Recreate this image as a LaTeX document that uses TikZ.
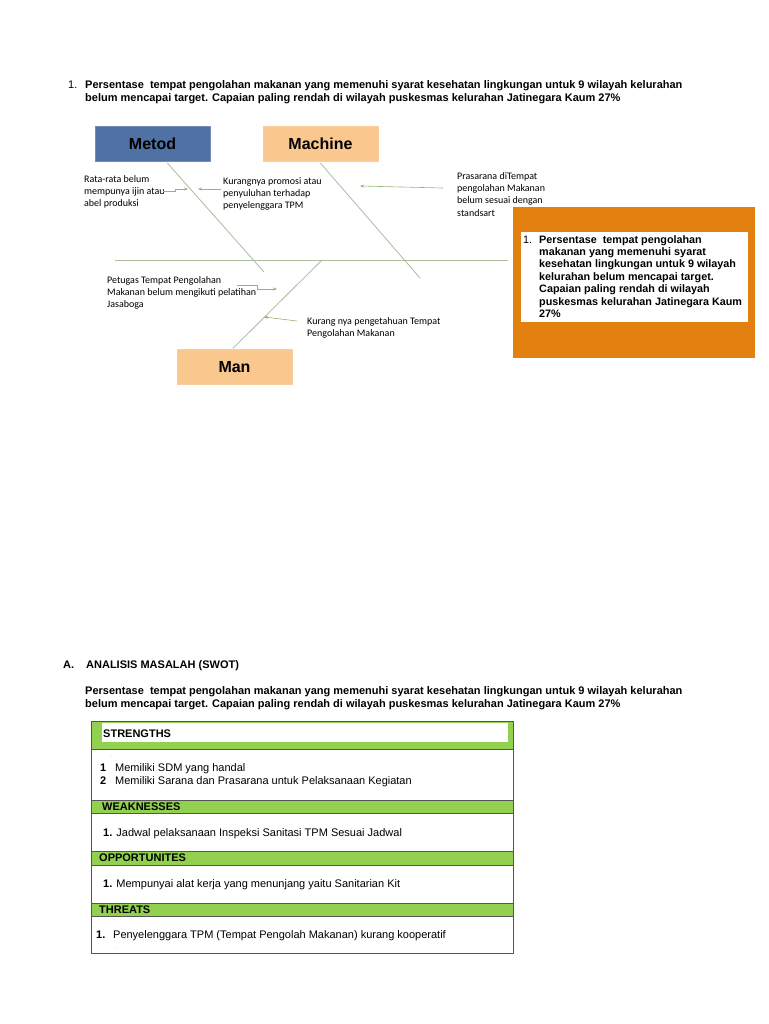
\documentclass[tikz,border=0pt]{standalone}
\usepackage{fontspec}
\setmainfont{Liberation Sans}
\newfontfamily\notefont{Carlito}
\usetikzlibrary{arrows.meta,positioning}
\definecolor{metodblue}{RGB}{79,113,163}
\definecolor{peach}{RGB}{250,199,143}
\definecolor{orangebox}{RGB}{226,129,15}
\definecolor{swotgreen}{RGB}{146,208,80}
\definecolor{boneline}{RGB}{172,188,158}
\definecolor{arrowgreen}{RGB}{150,180,120}
\definecolor{gridgray}{RGB}{85,85,85}

\begin{document}
\begin{tikzpicture}[x=1pt,y=-1pt,
  headbox/.style={minimum width=115pt,minimum height=35pt,inner sep=0pt,font=\fontsize{16}{18}\selectfont\bfseries},
  note/.style={anchor=north west,inner sep=0pt,align=left,font=\notefont\fontsize{10}{12.3}\selectfont},
  bone/.style={boneline,line width=0.8pt},
  cause/.style={-{Stealth[length=4pt,width=3pt]},arrowgreen,line width=0.6pt},
  body/.style={inner sep=0pt,anchor=base west,font=\fontsize{11}{13}\selectfont},
  bodybf/.style={body,font=\fontsize{11}{13}\selectfont\bfseries},
  para/.style={inner sep=0pt,anchor=north west,align=left,font=\fontsize{11}{13}\selectfont\bfseries}]
\useasboundingbox (0,0) rectangle (768,1024);
\fill[white] (0,0) rectangle (768,1024);

% title of the fishbone
\node[inner sep=0pt,anchor=north west,font=\fontsize{11}{13}\selectfont] (t1num) at (68,80) {\vphantom{Pl}1.};
\node[para] (t1) at (85,80) {Persentase\ \ tempat pengolahan makanan yang memenuhi syarat kesehatan lingkungan untuk 9 wilayah kelurahan\\belum mencapai target. Capaian paling rendah di wilayah puskesmas kelurahan Jatinegara Kaum 27\%};

% category heads
\node[headbox,fill=metodblue,draw=metodblue!80!white] (metod) at (152.5,143.5) {Metod};
\node[headbox,fill=peach,draw=peach!90!white] (machine) at (320.5,143.5) {Machine};
\node[headbox,fill=peach,draw=peach!90!white] (man) at (234.5,367) {Man};

% problem (head of the fish)
\fill[orangebox] (513,207) rectangle (755,358);
\node[fill=white,minimum width=227pt,minimum height=89pt,inner sep=0pt] (problem) at (634.5,277) {};
\node[inner sep=0pt,anchor=north west,font=\fontsize{10.8}{12.4}\selectfont] (pnum) at (523,235) {\vphantom{Pl}1.};
\node[para,font=\fontsize{10.8}{12.4}\selectfont\bfseries] (ptext) at (539,235) {Persentase\ \ tempat pengolahan\\makanan yang memenuhi syarat\\kesehatan lingkungan untuk 9 wilayah\\kelurahan belum mencapai target.\\Capaian paling rendah di wilayah\\puskesmas kelurahan Jatinegara Kaum\\27\%};

% spine and bones
\coordinate (tail) at (115,260);
\coordinate (spineend) at (508,260);
\draw[bone] (tail) -- (spineend);
\coordinate (metodtip) at (264,272);
\coordinate (machinetip) at (420,278);
\coordinate (manroot) at (322,260);
\draw[bone] ([xshift=15pt,yshift=-2pt]metod.south) -- (metodtip);
\draw[bone] ([yshift=-2pt]machine.south) -- (machinetip);
\draw[bone] (manroot) -- ([xshift=-1.5pt,yshift=1pt]man.north);

% causes
\node[note] (c1) at (84,175) {Rata-rata belum\\mempunya ijin atau\\abel produksi};
\node[note] (c2) at (223,177) {Kurangnya promosi atau\\penyuluhan terhadap\\penyelenggara TPM};
\node[note] (c3) at (457,172) {Prasarana diTempat\\pengolahan Makanan\\belum sesuai dengan\\standsart};
\node[note] (c4) at (107,276) {Petugas Tempat Pengolahan\\Makanan belum mengikuti pelatihan\\Jasaboga};
\node[note] (c5) at (307,317) {Kurang nya pengetahuan Tempat\\Pengolahan Makanan};

\coordinate (c1a) at (163,191);
\coordinate (c1b) at (188,189);
\draw[cause] (c1a) -- ++(12,0) |- (c1b);
\coordinate (c2a) at (221,189);
\coordinate (c2b) at (198,189);
\draw[cause] (c2a) -- (c2b);
\coordinate (c3a) at (443,188);
\coordinate (c3b) at (360,186);
\draw[cause] (c3a) -- (c3b);
\coordinate (c4a) at (237,285);
\coordinate (c4b) at (277,289);
\draw[cause] (c4a) -- ++(20,0) |- (c4b);
\coordinate (c5a) at (297,321);
\coordinate (c5b) at (264,317);
\draw[cause] (c5a) -- (c5b);
\node[inner sep=0pt,font=\tiny,text=black!30] (dot1) at (78,219) {.};

% SWOT section
\node[bodybf] (anum) at (63,668) {A.};
\node[bodybf] (atitle) at (86,668) {ANALISIS MASALAH (SWOT)};
\node[para] (stext) at (85,686) {Persentase\ \ tempat pengolahan makanan yang memenuhi syarat kesehatan lingkungan untuk 9 wilayah kelurahan\\belum mencapai target. Capaian paling rendah di wilayah puskesmas kelurahan Jatinegara Kaum 27\%};

% table bands
\fill[swotgreen] (91,721) rectangle (513,749);
\fill[white] (102,723) rectangle (508,742);
\foreach \ya/\yb in {800/813,851/865,903/916} {
  \fill[swotgreen] (91,\ya) rectangle (513,\yb);
}
\draw[gridgray,line width=0.8pt] (91,721) rectangle (513,953);
\foreach \yl in {749,800,813,851,865,903,916} {
  \draw[gridgray,line width=0.8pt] (91,\yl) -- (513,\yl);
}

% table texts
\node[bodybf] (strengths) at (103,737.5) {STRENGTHS};
\node[inner sep=0pt,font=\tiny,text=black!50] (dot2) at (111,757) {.};
\node[body] (s1) at (100,771) {\textbf{1}\hspace{8.9pt}Memiliki SDM yang handal};
\node[body] (s2) at (100,784.5) {\textbf{2}\hspace{8.9pt}Memiliki Sarana dan Prasarana untuk Pelaksanaan Kegiatan};
\node[bodybf] (weak) at (102,810) {WEAKNESSES};
\node[body] (w1) at (103,836.5) {\textbf{1.} Jadwal pelaksanaan Inspeksi Sanitasi TPM Sesuai Jadwal};
\node[bodybf] (opp) at (99,861) {OPPORTUNITES};
\node[body] (o1) at (103,887) {\textbf{1.} Mempunyai alat kerja yang menunjang yaitu Sanitarian Kit};
\node[bodybf] (threat) at (99,913) {THREATS};
\node[body] (th1) at (96,938.5) {\textbf{1.}\hspace{7.8pt}Penyelenggara TPM (Tempat Pengolah Makanan) kurang kooperatif};
\node[inner sep=0pt,font=\tiny,text=black!50] (dot3) at (117,948) {.};
\end{tikzpicture}
\end{document}
